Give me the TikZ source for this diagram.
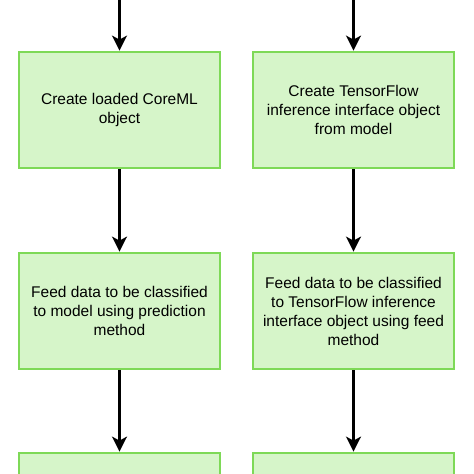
\documentclass[tikz,border=0pt]{standalone}
\usepackage{fontspec}
\setmainfont{Liberation Sans}
\usetikzlibrary{arrows.meta}
\definecolor{boxfill}{HTML}{D6F5C9}
\definecolor{boxline}{HTML}{7ED957}
\tikzset{
  stepbox/.style={draw=boxline, fill=boxfill, line width=2.8pt, minimum width=201pt, minimum height=116pt, inner sep=0pt, align=center, font=\fontsize{15.5}{19}\selectfont},
  flow/.style={line width=2.3pt, -{Stealth[length=15pt, width=15pt, inset=4pt]}}
}
\begin{document}
\begin{tikzpicture}[x=1pt, y=-1pt]
    \pgfmathsetmacro{\xl}{119.5}
    \pgfmathsetmacro{\xr}{353.5}
    \useasboundingbox (0, 0) rectangle (474, 474);
    \clip (0, 0) rectangle (474, 474);
    \node[stepbox] (coreload) at (\xl, 110) {Create loaded CoreML\\object};
    \node[stepbox] (tfload) at (\xr, 110) {Create TensorFlow\\inference interface object\\from model};
    \node[stepbox] (corefeed) at (\xl, 311) {Feed data to be classified\\to model using prediction\\method};
    \node[stepbox] (tffeed) at (\xr, 311) {Feed data to be classified\\to TensorFlow inference\\interface object using feed\\method};
    \node[stepbox] (corenext) at (\xl, 511) {};
    \node[stepbox] (tfnext) at (\xr, 511) {};
    \coordinate (corein) at (\xl, -5);
    \coordinate (tfin) at (\xr, -5);
    \draw[flow] (corein) -- (coreload);
    \draw[flow] (tfin) -- (tfload);
    \draw[flow] (coreload) -- (corefeed);
    \draw[flow] (tfload) -- (tffeed);
    \draw[flow] (corefeed) -- (corenext);
    \draw[flow] (tffeed) -- (tfnext);
  \end{tikzpicture}
\end{document}
